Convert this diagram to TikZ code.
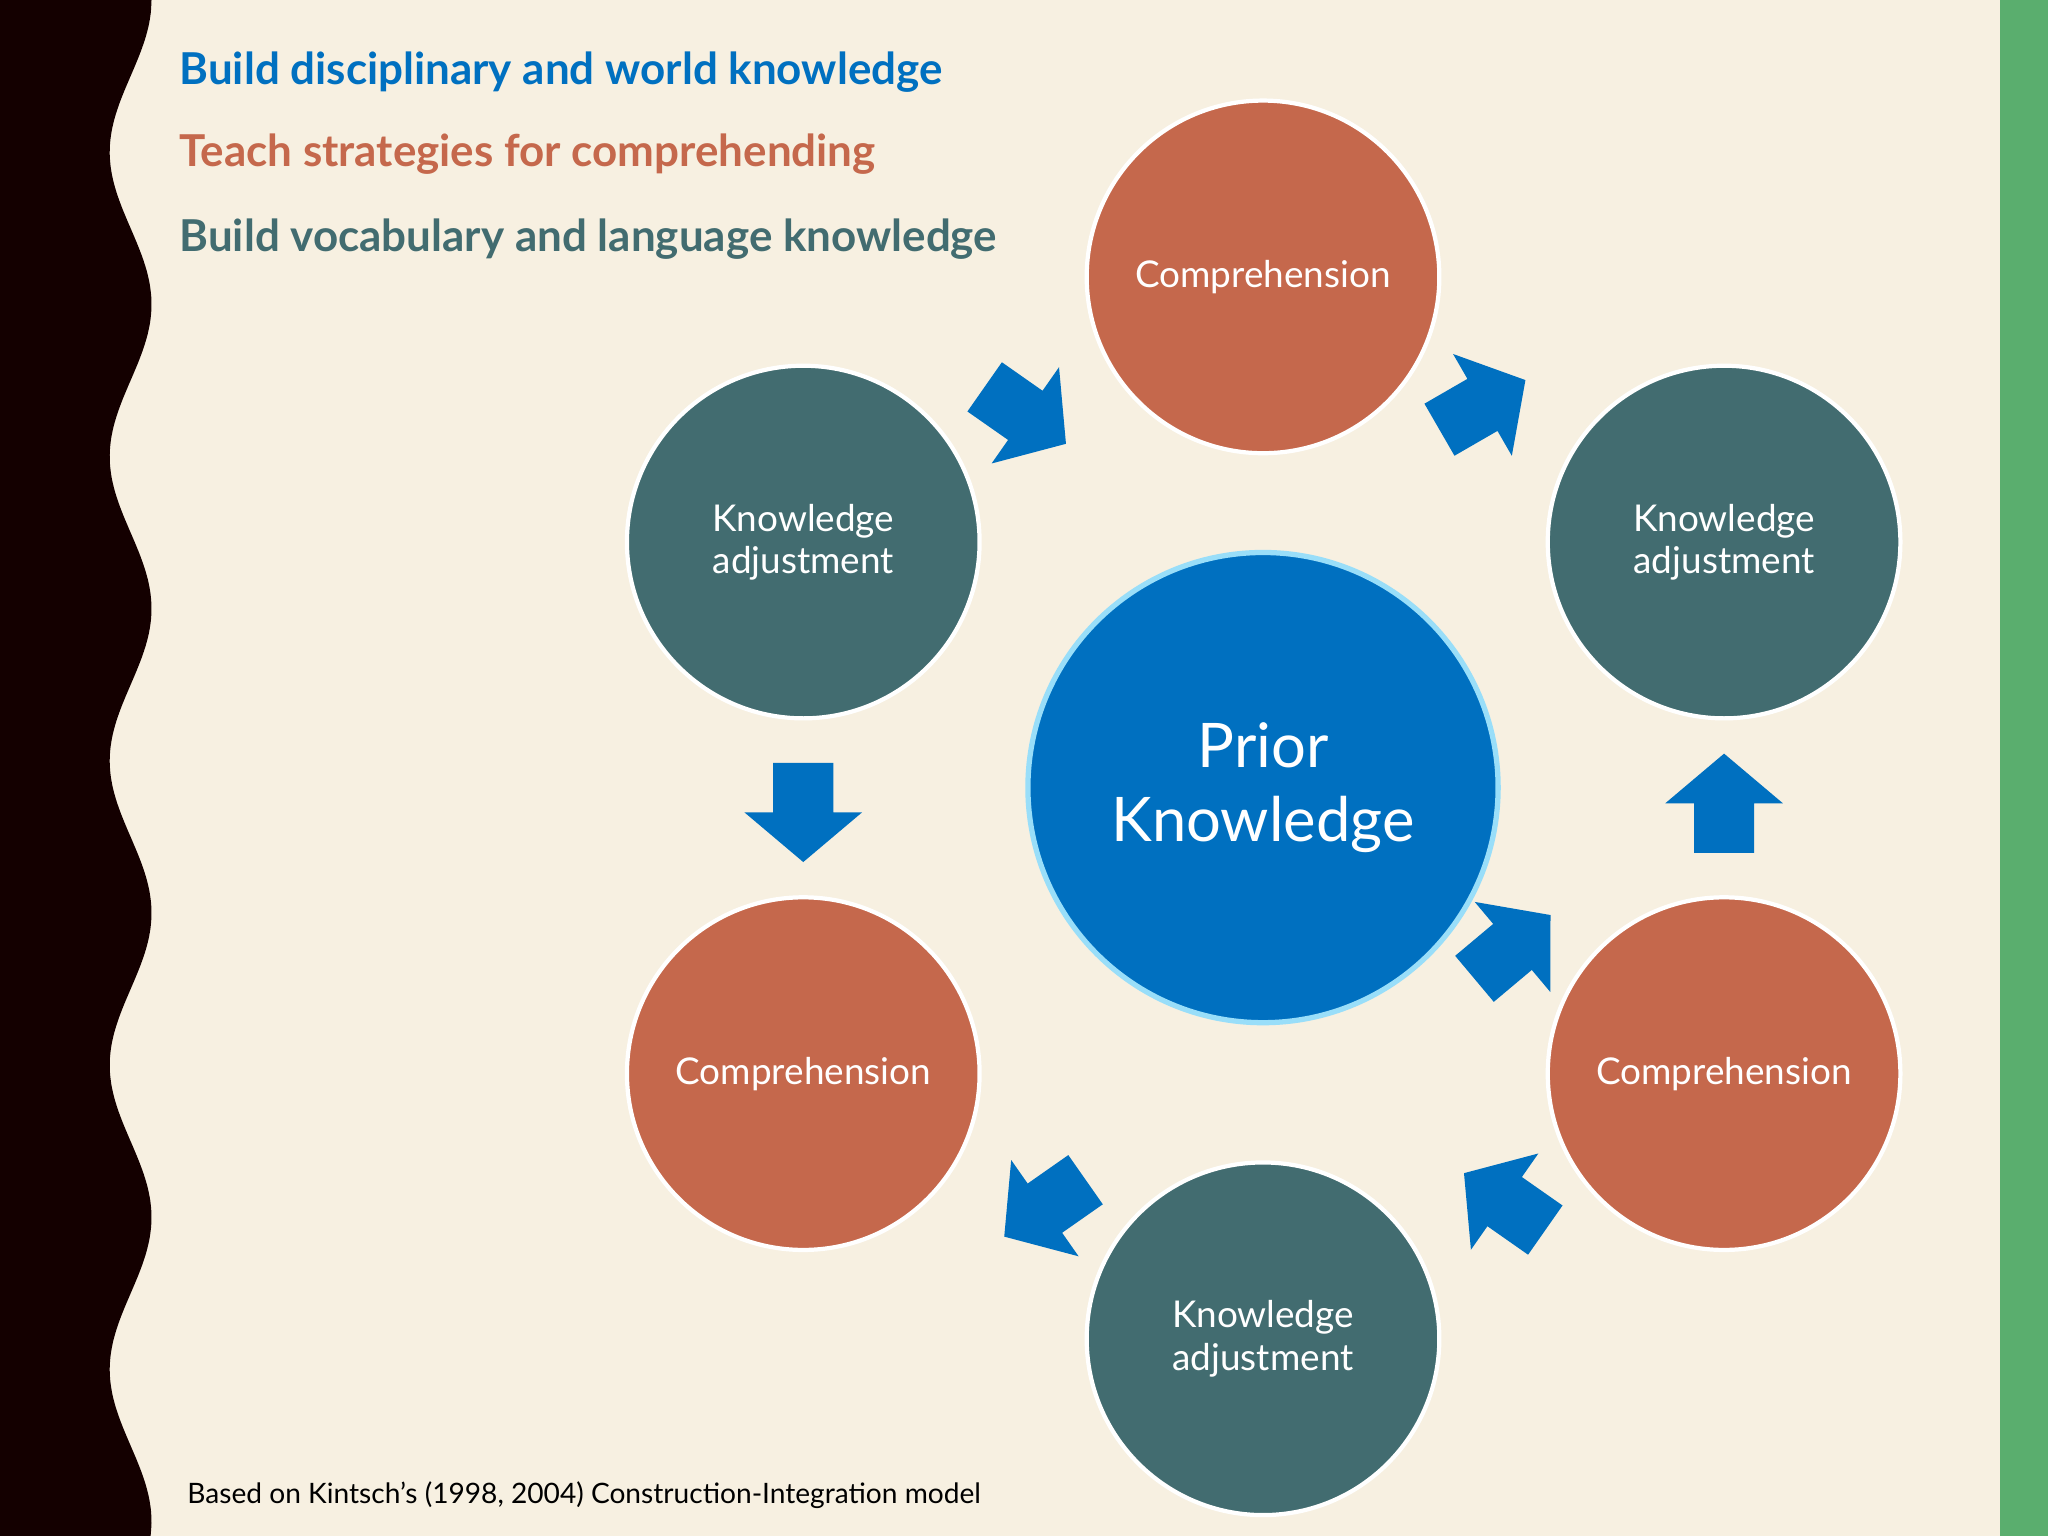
\documentclass[tikz,border=0pt]{standalone}
\usepackage{fontspec}
\setmainfont{Lato}
\usetikzlibrary{positioning}
\definecolor{cream}{RGB}{247,240,225}
\definecolor{bluek}{RGB}{0,112,192}
\definecolor{orangek}{RGB}{197,104,76}
\definecolor{tealk}{RGB}{66,108,112}
\definecolor{greenk}{RGB}{90,174,110}
\tikzset{
  cycle/.style={circle,minimum size=270*0.01306cm,draw=white!70,line width=1.2pt,text=white,align=center,font=\fontsize{10.5}{12}\selectfont},
  compr/.style={cycle,fill=orangek},
  adjust/.style={cycle,fill=tealk},
  title/.style={anchor=west,font=\fontsize{12.5}{14}\selectfont\bfseries},
  flowarrow/.pic={\fill[bluek] (-38,-23) -- (0,-23) -- (0,-45) -- (38,0) -- (0,45) -- (0,23) -- (-38,23) -- cycle;}
}
\begin{document}
\begin{tikzpicture}[x=0.01306cm,y=-0.01306cm]
\useasboundingbox (0,0) rectangle (1568,1176);
\fill[cream] (0,0) rectangle (1568,1176);
\fill[greenk] (1531,0) rectangle (1568,1176);
\fill[black!92!red] (0,0) -- plot[domain=0:1176,samples=120,smooth] ({100+16*cos(\x*1.545)},\x) -- (0,1176) -- cycle;
%
\node[title,text=bluek] (t1) at (128,55) {Build disciplinary and world knowledge};
\node[title,text=orangek] (t2) at (128,118) {Teach strategies for comprehending};
\node[title,text=tealk] (t3) at (128,183) {Build vocabulary and language knowledge};
%
\node[circle,minimum size=360*0.01306cm,fill=bluek,draw=cyan!40,line width=1.5pt,text=white,align=center,font=\fontsize{17.5}{21}\selectfont] (prior) at (967,603) {Prior\\Knowledge};
\node[compr] (c1) at (967,212) {Comprehension};
\node[adjust] (k1) at (1320,415) {Knowledge\\adjustment};
\node[compr] (c2) at (1320,822) {Comprehension};
\node[adjust] (k2) at (967,1025) {Knowledge\\adjustment};
\node[compr] (c3) at (615,822) {Comprehension};
\node[adjust] (k3) at (615,415) {Knowledge\\adjustment};
%
\pic[rotate=-35] at (785,318) {flowarrow};
\pic[rotate=30] at (1135,310) {flowarrow};
\pic[rotate=90] at (1320,615) {flowarrow};
\pic[rotate=40] at (1158,725) {flowarrow};
\pic[rotate=145] at (1152,920) {flowarrow};
\pic[rotate=-145] at (800,925) {flowarrow};
\pic[rotate=-90] at (615,622) {flowarrow};
%
\node[anchor=west,font=\fontsize{8}{10}\selectfont] (src) at (134,1145) {Based on Kintsch’s (1998, 2004) Construction-Integration model};
\end{tikzpicture}
\end{document}
